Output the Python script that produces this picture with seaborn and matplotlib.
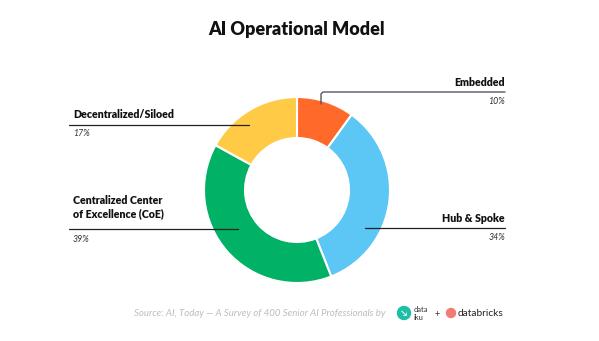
import matplotlib
matplotlib.use("Agg")
import matplotlib.pyplot as plt
import seaborn as sns

# Survey results: share of respondents by AI operational model
categories = ["Embedded", "Hub & Spoke", "Centralized Center\nof Excellence (CoE)", "Decentralized/Siloed"]
shares = [10, 34, 39, 17]
colors = ["#FF6A2A", "#5CC6F4", "#00B166", "#FFCB47"]

title = "AI Operational Model"
source = "Source: AI, Today \u2014 A Survey of 400 Senior AI Professionals by"

sns.set_theme(style="white")
plt.rcParams["font.family"] = ["Lato", "DejaVu Sans"]

W, H = 599, 341
fig = plt.figure(figsize=(W / 100, H / 100), dpi=100)
ax = fig.add_axes([0, 0, 1, 1])
ax.set_xlim(0, W)
ax.set_ylim(0, H)
ax.set_aspect("equal")
ax.axis("off")

def py(y):
    return H - y

cx, cy, r_out, r_in = 297, 190, 93, 52
ax.pie(shares, colors=colors, startangle=90, counterclock=False,
       center=(cx, py(cy)), radius=r_out,
       wedgeprops=dict(width=r_out - r_in, edgecolor="white", linewidth=1.5))
ax.set_xlim(0, W)
ax.set_ylim(0, H)

ax.text(297, py(30), title, ha="center", va="center",
        fontsize=13, fontweight="heavy", color="#111111")

line_kw = dict(color="#222222", linewidth=0.9)
lab_kw = dict(fontsize=7.7, fontweight="heavy", color="#111111")
pct_kw = dict(fontsize=6.3, style="italic", color="#333333")

# Embedded (right, elbow leader)
ax.plot([321, 321, 323, 505], [py(104), py(94), py(92), py(92)], color="#555566", linewidth=1.0)
ax.text(505, py(82), categories[0], ha="right", va="center", **lab_kw)
ax.text(505, py(101), f"{shares[0]}%", ha="right", va="center", **pct_kw)

# Hub & Spoke (right)
ax.plot([365, 505], [py(228), py(228)], **line_kw)
ax.text(505, py(218), categories[1], ha="right", va="center", **lab_kw)
ax.text(505, py(238), f"{shares[1]}%", ha="right", va="center", **pct_kw)

# Decentralized/Siloed (left)
ax.plot([69, 249], [py(125), py(125)], **line_kw)
ax.text(73, py(115), categories[3], ha="left", va="center", **lab_kw)
ax.text(73, py(134), f"{shares[3]}%", ha="left", va="center", **pct_kw)

# Centralized CoE (left, two-line label)
ax.plot([69, 238], [py(229), py(229)], **line_kw)
ax.text(73, py(207), categories[2], ha="left", va="center", linespacing=1.3, **lab_kw)
ax.text(73, py(240), f"{shares[2]}%", ha="left", va="center", **pct_kw)

# Footer with source and partner marks
ax.text(386, py(313), source, ha="right", va="center", fontsize=6.9,
        style="italic", color="#BDBDBD")
ax.add_patch(plt.Circle((404, py(313)), 6.5, color="#1FBEA8"))
ax.text(404, py(313.5), "\u2198", ha="center", va="center", fontsize=6, color="white", fontweight="bold")
ax.text(414, py(309), "data", ha="left", va="center", fontsize=5.4, color="#333333")
ax.text(414, py(317), "iku", ha="left", va="center", fontsize=5.4, color="#333333")
ax.text(437, py(314), "+", ha="center", va="center", fontsize=6.5, color="#333333")
ax.add_patch(plt.Circle((451, py(313)), 4.5, color="#F07C75"))
ax.text(458, py(313), "databricks", ha="left", va="center", fontsize=7.3, color="#222222")

fig.savefig("out.png", dpi=100, facecolor="white")
